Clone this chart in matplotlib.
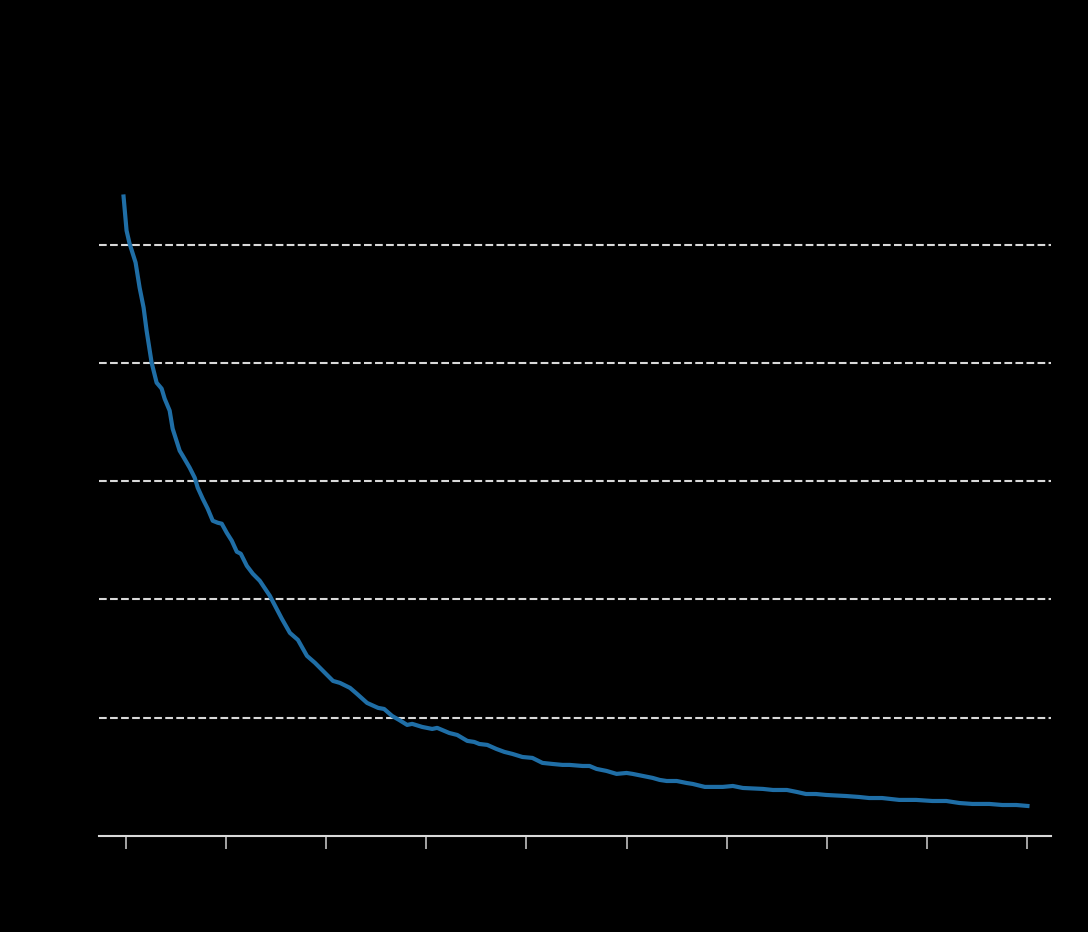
import matplotlib
matplotlib.use("Agg")
import matplotlib.pyplot as plt

# values (x in steps, y in grid units)
steps = [-2, 1, 4, 10, 14, 18, 21, 26, 31, 36, 39, 44, 47, 54, 57, 64, 69, 72, 77, 82,
         87, 92, 96, 101, 106, 111, 115, 121, 127, 134, 144, 156, 164, 172, 181, 189,
         197, 207, 214, 224, 231, 241, 252, 258, 266, 273, 281, 286, 296, 306, 311,
         323, 331, 341, 348, 353, 361, 370, 378, 386, 396, 406, 416, 426, 436, 443,
         456, 463, 470, 480, 490, 500, 506, 516, 526, 533, 540, 550, 560, 566, 578,
         586, 596, 606, 616, 636, 646, 660, 670, 679, 689, 699, 719, 732, 742, 755,
         772, 789, 805, 819, 832, 845, 862, 875, 889, 900]
loss = [5.406, 5.118, 5.008, 4.848, 4.636, 4.467, 4.272, 4.002, 3.832, 3.782, 3.697,
        3.596, 3.443, 3.257, 3.215, 3.113, 3.029, 2.944, 2.851, 2.766, 2.665, 2.648,
        2.640, 2.563, 2.496, 2.403, 2.386, 2.284, 2.217, 2.157, 2.030, 1.836, 1.717,
        1.658, 1.523, 1.464, 1.396, 1.311, 1.294, 1.252, 1.201, 1.125, 1.083, 1.074,
        1.015, 0.981, 0.939, 0.948, 0.922, 0.905, 0.914, 0.871, 0.854, 0.804, 0.795,
        0.778, 0.770, 0.736, 0.711, 0.694, 0.668, 0.660, 0.618, 0.609, 0.601, 0.601,
        0.592, 0.592, 0.567, 0.550, 0.525, 0.533, 0.525, 0.508, 0.491, 0.474, 0.465,
        0.465, 0.448, 0.440, 0.415, 0.415, 0.415, 0.423, 0.406, 0.398, 0.389, 0.389,
        0.372, 0.355, 0.355, 0.347, 0.338, 0.330, 0.321, 0.321, 0.305, 0.305, 0.296,
        0.296, 0.279, 0.271, 0.271, 0.262, 0.262, 0.254]
x_ticks = [0, 100, 200, 300, 400, 500, 600, 700, 800, 900]
y_grid = [1, 2, 3, 4, 5]

fig = plt.figure(figsize=(10.88, 9.32), dpi=100, facecolor="black")
ax = fig.add_axes([99 / 1088, 96 / 932, 952 / 1088, 666 / 932], facecolor="black")

for g in y_grid:
    ax.axhline(g, color="#d9d9d9", lw=1.5, ls="--", zorder=1)

ax.plot(steps, loss, color="#1f6ea6", lw=3, zorder=3)

ax.set_xlim(-26.5, 923.5)
ax.set_ylim(0, 5.63)
ax.set_xticks(x_ticks)
ax.set_xticklabels([])
ax.set_yticks([])

for side in ["top", "right", "left"]:
    ax.spines[side].set_visible(False)
ax.spines["bottom"].set_color("#d9d9d9")
ax.spines["bottom"].set_linewidth(1.5)
ax.tick_params(axis="x", direction="out", length=9, width=1.2, colors="#bfbfbf")

fig.savefig("out.png", dpi=100, facecolor="black")
